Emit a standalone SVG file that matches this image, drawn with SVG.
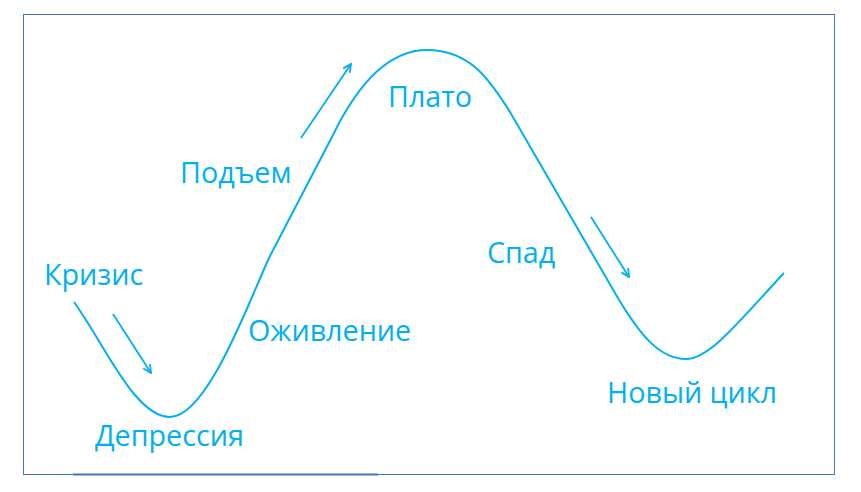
<svg xmlns="http://www.w3.org/2000/svg" width="861" height="492" viewBox="0 0 861 492">
<style>
.lbl{font-family:"Open Sans","Noto Sans","Liberation Sans",sans-serif;font-size:28.7px;fill:#00B0F0}
.curve{fill:none;stroke:#00B0F0;stroke-width:2}
.arr{fill:none;stroke:#00B0F0;stroke-width:1.8;marker-end:url(#ah)}
</style>
<defs>
<marker id="ah" viewBox="0 0 10 10" refX="9" refY="5" markerWidth="10" markerHeight="10" markerUnits="userSpaceOnUse" orient="auto">
<path d="M1,1 L9,5 L1,9" fill="none" stroke="#00B0F0" stroke-width="1.8"/>
</marker>
</defs>
<rect x="0" y="0" width="861" height="492" fill="#ffffff"/>
<g id="frame">
<rect x="23.5" y="14.5" width="811" height="460" fill="none" stroke="#4472C4" stroke-width="1"/>
<line x1="73" y1="474.5" x2="378" y2="474.5" stroke="#4472C4" stroke-width="2"/>
</g>
<g id="connectors">
<path id="cycle" class="curve" d="M74,302 C105,345 135,417 170,417 C208,417 250,298 270,256 L333,135 C350,100 380,50 427,50 C470,50 490,80 510,112 L615,293 C640,336 660,359 686,359 C710,359 740,320 784,273"/>
<line class="arr" x1="113" y1="314" x2="151" y2="373"/>
<line class="arr" x1="301" y1="138" x2="351" y2="64"/>
<line class="arr" x1="591" y1="217" x2="629" y2="277"/>
</g>
<g id="n-krizis"><text class="lbl" x="44" y="285">Кризис</text></g>
<g id="n-depressiya"><text class="lbl" x="95" y="446">Депрессия</text></g>
<g id="n-ozhivlenie"><text class="lbl" x="248" y="341">Оживление</text></g>
<g id="n-podyem"><text class="lbl" x="180" y="183">Подъем</text></g>
<g id="n-plato"><text class="lbl" x="388" y="107">Плато</text></g>
<g id="n-spad"><text class="lbl" x="487" y="263">Спад</text></g>
<g id="n-noviy"><text class="lbl" x="607" y="403">Новый цикл</text></g>
</svg>
